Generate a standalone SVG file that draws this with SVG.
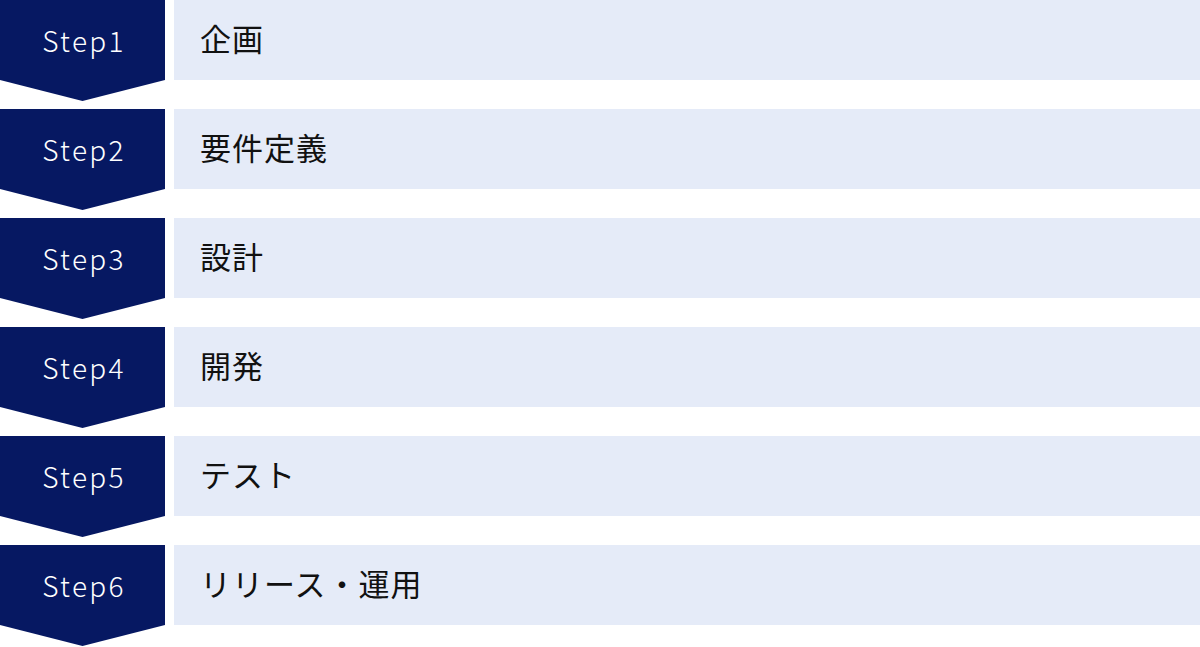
<svg xmlns="http://www.w3.org/2000/svg" width="1200" height="647" viewBox="0 0 1200 647">
<defs>
<style>
.chev{fill:#061862}
.box{fill:#e5ebf8}
.st{font-family:"Noto Sans CJK JP","Noto Sans",sans-serif;font-size:28px;font-weight:300;fill:#ffffff;letter-spacing:2.3px;text-anchor:middle}
.lb{font-family:"Noto Sans CJK JP",sans-serif;font-size:31px;fill:#111111;letter-spacing:1px}
</style>
<path id="chevShape" d="M0 0H165V80L82.5 101L0 80Z"/>
</defs>
<rect width="1200" height="647" fill="#ffffff"/>
<g id="connectors"></g>
<g id="step1" transform="translate(0,0)">
<use href="#chevShape" class="chev"/><rect class="box" x="174" y="0" width="1026" height="80"/>
<text class="st" x="84" y="52">Step1</text><text class="lb" x="200" y="51">企画</text>
</g>
<g id="step2" transform="translate(0,109)">
<use href="#chevShape" class="chev"/><rect class="box" x="174" y="0" width="1026" height="80"/>
<text class="st" x="84" y="52">Step2</text><text class="lb" x="200" y="51">要件定義</text>
</g>
<g id="step3" transform="translate(0,218)">
<use href="#chevShape" class="chev"/><rect class="box" x="174" y="0" width="1026" height="80"/>
<text class="st" x="84" y="52">Step3</text><text class="lb" x="200" y="51">設計</text>
</g>
<g id="step4" transform="translate(0,327)">
<use href="#chevShape" class="chev"/><rect class="box" x="174" y="0" width="1026" height="80"/>
<text class="st" x="84" y="52">Step4</text><text class="lb" x="200" y="51">開発</text>
</g>
<g id="step5" transform="translate(0,436)">
<use href="#chevShape" class="chev"/><rect class="box" x="174" y="0" width="1026" height="80"/>
<text class="st" x="84" y="52">Step5</text><text class="lb" x="200" y="51">テスト</text>
</g>
<g id="step6" transform="translate(0,545)">
<use href="#chevShape" class="chev"/><rect class="box" x="174" y="0" width="1026" height="80"/>
<text class="st" x="84" y="52">Step6</text><text class="lb" x="200" y="51">リリース・運用</text>
</g>
</svg>
